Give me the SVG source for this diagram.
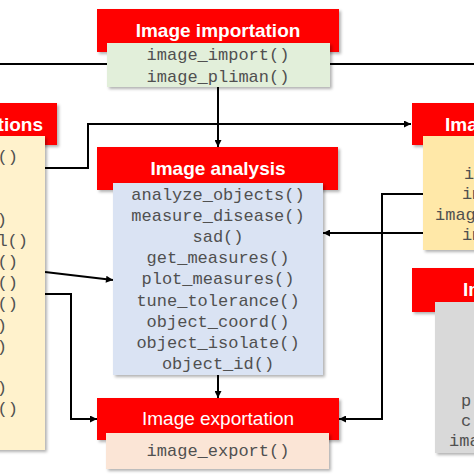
<svg xmlns="http://www.w3.org/2000/svg" width="474" height="474" viewBox="0 0 474 474">
<defs>
<filter id="sh" x="-10%" y="-10%" width="130%" height="130%">
<feDropShadow dx="2" dy="2" stdDeviation="1.5" flood-color="#000" flood-opacity="0.3"/>
</filter>
<marker id="ah" viewBox="0 0 10 10" refX="10" refY="5" markerWidth="8" markerHeight="7" markerUnits="userSpaceOnUse" orient="auto">
<path d="M0,0 L10,5 L0,10 z" fill="#000"/>
</marker>
</defs>
<style>
.hdr{fill:#FF0000;filter:url(#sh)}
.ht{font-family:"Liberation Sans",Arial,sans-serif;font-size:19px;font-weight:bold;fill:#fff}
.htr{font-family:"Liberation Sans",Arial,sans-serif;font-size:19px;fill:#fff}
.mono{font-family:"Liberation Mono","Courier New",monospace;font-size:17px;fill:#505050}
.box{filter:url(#sh)}
.c{text-anchor:middle}
.e{text-anchor:end}
.ln{fill:none;stroke:#000;stroke-width:2}
</style>
<rect width="474" height="474" fill="#fff"/>

<g id="connectors">
<line class="ln" x1="0" y1="64" x2="107" y2="64"/>
<line class="ln" x1="330" y1="64" x2="474" y2="64"/>
<line class="ln" x1="218" y1="87" x2="218" y2="147" marker-end="url(#ah)"/>
<polyline class="ln" points="45,168 88,168 88,124 411,124" marker-end="url(#ah)"/>
<line class="ln" x1="45" y1="272" x2="113" y2="280" marker-end="url(#ah)"/>
<polyline class="ln" points="45,294 71,294 71,419 97,419" marker-end="url(#ah)"/>
<line class="ln" x1="218" y1="375" x2="218" y2="398" marker-end="url(#ah)"/>
<polyline class="ln" points="424,194 382,194 382,419 339,419" marker-end="url(#ah)"/>
<line class="ln" x1="424" y1="233" x2="323" y2="233" marker-end="url(#ah)"/>
</g>

<g id="left-panel">
<rect class="hdr" x="-60" y="103" width="117" height="42"/>
<text class="ht e" x="43" y="131">tions</text>
<rect class="box" x="-60" y="136" width="105" height="314" fill="#FFF2CC"/>
<text class="mono e" x="18" y="162">()</text>
<text class="mono e" x="7" y="225">()</text>
<text class="mono e" x="28" y="246">l()</text>
<text class="mono e" x="18" y="267">()</text>
<text class="mono e" x="18" y="288">()</text>
<text class="mono e" x="18" y="309">()</text>
<text class="mono e" x="7" y="331">()</text>
<text class="mono e" x="7" y="352">()</text>
<text class="mono e" x="7" y="393">()</text>
<text class="mono e" x="18" y="414">()</text>
</g>

<g id="image-importation">
<rect class="hdr" x="97" y="9" width="242" height="43"/>
<text class="ht c" x="218" y="37">Image importation</text>
<rect class="box" x="107" y="43" width="223" height="44" fill="#E2EFDA"/>
<text class="mono c" x="218" y="60">image_import()</text>
<text class="mono c" x="218" y="82">image_pliman()</text>
</g>

<g id="image-analysis">
<rect class="hdr" x="97" y="147" width="241" height="43"/>
<text class="ht c" x="218" y="175">Image analysis</text>
<rect class="box" x="113" y="183" width="210" height="192" fill="#DAE3F3"/>
<text class="mono c" x="218" y="200">analyze_objects()</text>
<text class="mono c" x="218" y="221">measure_disease()</text>
<text class="mono c" x="218" y="242">sad()</text>
<text class="mono c" x="218" y="263">get_measures()</text>
<text class="mono c" x="218" y="284">plot_measures()</text>
<text class="mono c" x="218" y="306">tune_tolerance()</text>
<text class="mono c" x="218" y="327">object_coord()</text>
<text class="mono c" x="218" y="348">object_isolate()</text>
<text class="mono c" x="218" y="369">object_id()</text>
</g>

<g id="image-exportation">
<rect class="hdr" x="97" y="398" width="242" height="42"/>
<text class="htr c" x="218" y="425">Image exportation</text>
<rect class="box" x="106" y="433" width="223" height="36" fill="#FBE5D6"/>
<text class="mono c" x="218" y="456">image_export()</text>
</g>

<g id="right-upper-panel">
<rect class="hdr" x="412" y="103" width="100" height="42"/>
<text class="ht" x="445" y="131">Ima</text>
<rect class="box" x="423" y="136" width="80" height="114" fill="#FFE8A8"/>
<text class="mono" x="464" y="179">i</text>
<text class="mono" x="462" y="199">im</text>
<text class="mono" x="435" y="220">imag</text>
<text class="mono" x="462" y="240">im</text>
</g>

<g id="right-lower-panel">
<rect class="hdr" x="412" y="268" width="100" height="44"/>
<text class="ht" x="463" y="296">Im</text>
<rect class="box" x="435" y="302" width="70" height="151" fill="#D9D9D9"/>
<text class="mono" x="461" y="406">p</text>
<text class="mono" x="461" y="426">c</text>
<text class="mono" x="449" y="446">ima</text>
</g>
</svg>
